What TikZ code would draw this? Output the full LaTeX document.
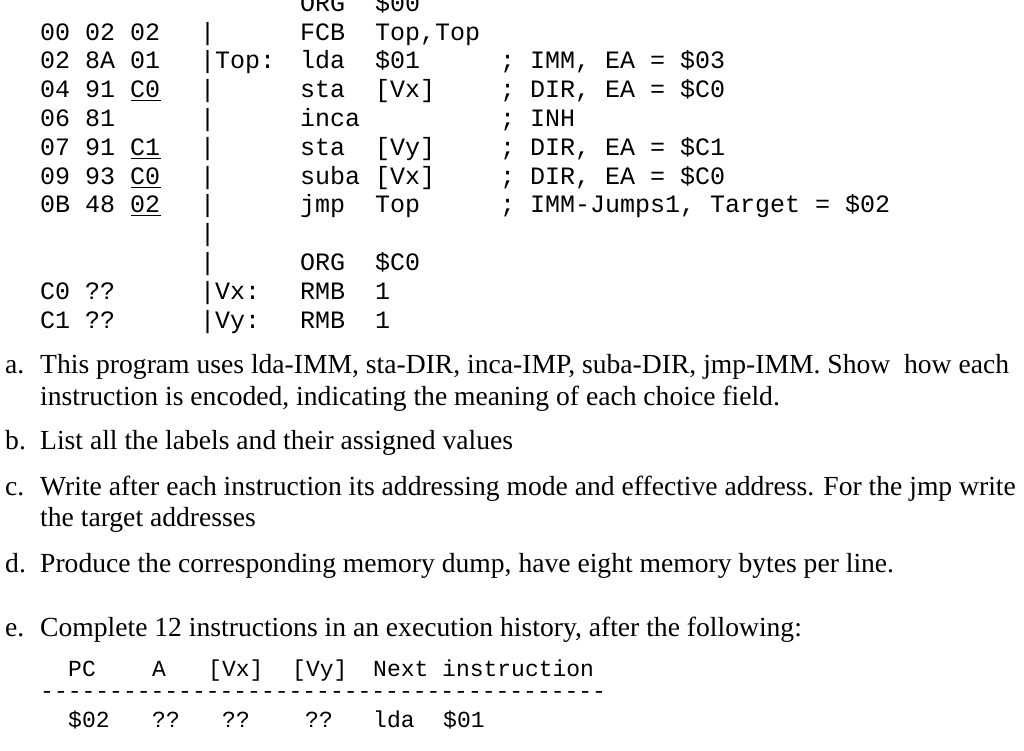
\documentclass[tikz,border=0pt]{standalone}
\usepackage{fontspec}
\setmainfont{Liberation Serif}
\newfontfamily\monof{Liberation Mono}
\begin{document}
\begin{tikzpicture}[x=1pt,y=-1pt,
  mono/.style={font=\monof\fontsize{25}{25}\selectfont,anchor=base west,inner sep=0pt},
  smono/.style={font=\monof\fontsize{23}{23}\selectfont,anchor=base west,inner sep=0pt},
  ser/.style={font=\fontsize{27.6}{27.6}\selectfont,anchor=base west,inner sep=0pt},
  ul/.style={line width=1pt}]
\useasboundingbox[fill=white] (0,0) rectangle (1024,750);
% row 0 (cut off)
\node[mono] (r0a) at (300,11) {ORG};
\node[mono] (r0b) at (375,11) {\$00};
\foreach \i/\a/\p/\c/\d/\e in {
 1/{00 02 02}/{|}/{FCB}/{Top,Top}/{},
 2/{02 8A 01}/{|Top:}/{lda}/{\$01}/{; IMM, EA = \$03},
 3/{04 91 C0}/{|}/{sta}/{[Vx]}/{; DIR, EA = \$C0},
 4/{06 81}/{|}/{inca}/{}/{; INH},
 5/{07 91 C1}/{|}/{sta}/{[Vy]}/{; DIR, EA = \$C1},
 6/{09 93 C0}/{|}/{suba}/{[Vx]}/{; DIR, EA = \$C0},
 7/{0B 48 02}/{|}/{jmp}/{Top}/{; IMM-Jumps1, Target = \$02},
 8/{}/{|}/{}/{}/{},
 9/{}/{|}/{ORG}/{\$C0}/{},
 10/{C0 ??}/{|Vx:}/{RMB}/{1}/{},
 11/{C1 ??}/{|Vy:}/{RMB}/{1}/{}}{
 \pgfmathsetmacro\yy{40+28.8*(\i-1)}
 \node[mono] (a\i) at (40,\yy) {\a};
 \node[mono] (p\i) at (200,\yy) {\p};
 \node[mono] (c\i) at (300,\yy) {\c};
 \node[mono] (d\i) at (375,\yy) {\d};
 \node[mono] (e\i) at (500,\yy) {\e};
}
\foreach \i in {3,5,6,7}{
 \pgfmathsetmacro\yy{40+28.8*(\i-1)+3}
 \draw[ul] (131,\yy) -- (161,\yy);
}
% questions
\node[ser] (qa) at (5,373) {a.};
\node[ser] (ta1) at (40,373) {This program uses lda-IMM, sta-DIR, inca-IMP, suba-DIR, jmp-IMM. Show\ \ how each};
\node[ser] (ta2) at (40,405) {instruction is encoded, indicating the meaning of each choice field.};
\node[ser] (qb) at (5,449) {b.};
\node[ser] (tb) at (40,449) {List all the labels and their assigned values};
\node[ser] (qc) at (5,495) {c.};
\node[ser] (tc1) at (40,495) {Write after each instruction its addressing mode and effective address. For the jmp write};
\node[ser] (tc2) at (40,526) {the target addresses};
\node[ser] (qd) at (5,572) {d.};
\node[ser] (td) at (40,572) {Produce the corresponding memory dump, have eight memory bytes per line.};
\node[ser] (qe) at (5,636) {e.};
\node[ser] (te) at (40,636) {Complete 12 instructions in an execution history, after the following:};
% table
\node[smono] (h1) at (68,676) {PC};
\node[smono] (h2) at (152,676) {A};
\node[smono] (h3) at (208,676) {[Vx]};
\node[smono] (h4) at (292,676) {[Vy]};
\node[smono] (h5) at (373,676) {Next instruction};
\node[smono] (dash) at (40,698) {-----------------------------------------};
\node[smono] (v1) at (68,727) {\$02};
\node[smono] (v2) at (152,727) {??};
\node[smono] (v3) at (222,727) {??};
\node[smono] (v4) at (305,727) {??};
\node[smono] (v5) at (373,727) {lda};
\node[smono] (v6) at (443,727) {\$01};
\end{tikzpicture}
\end{document}
